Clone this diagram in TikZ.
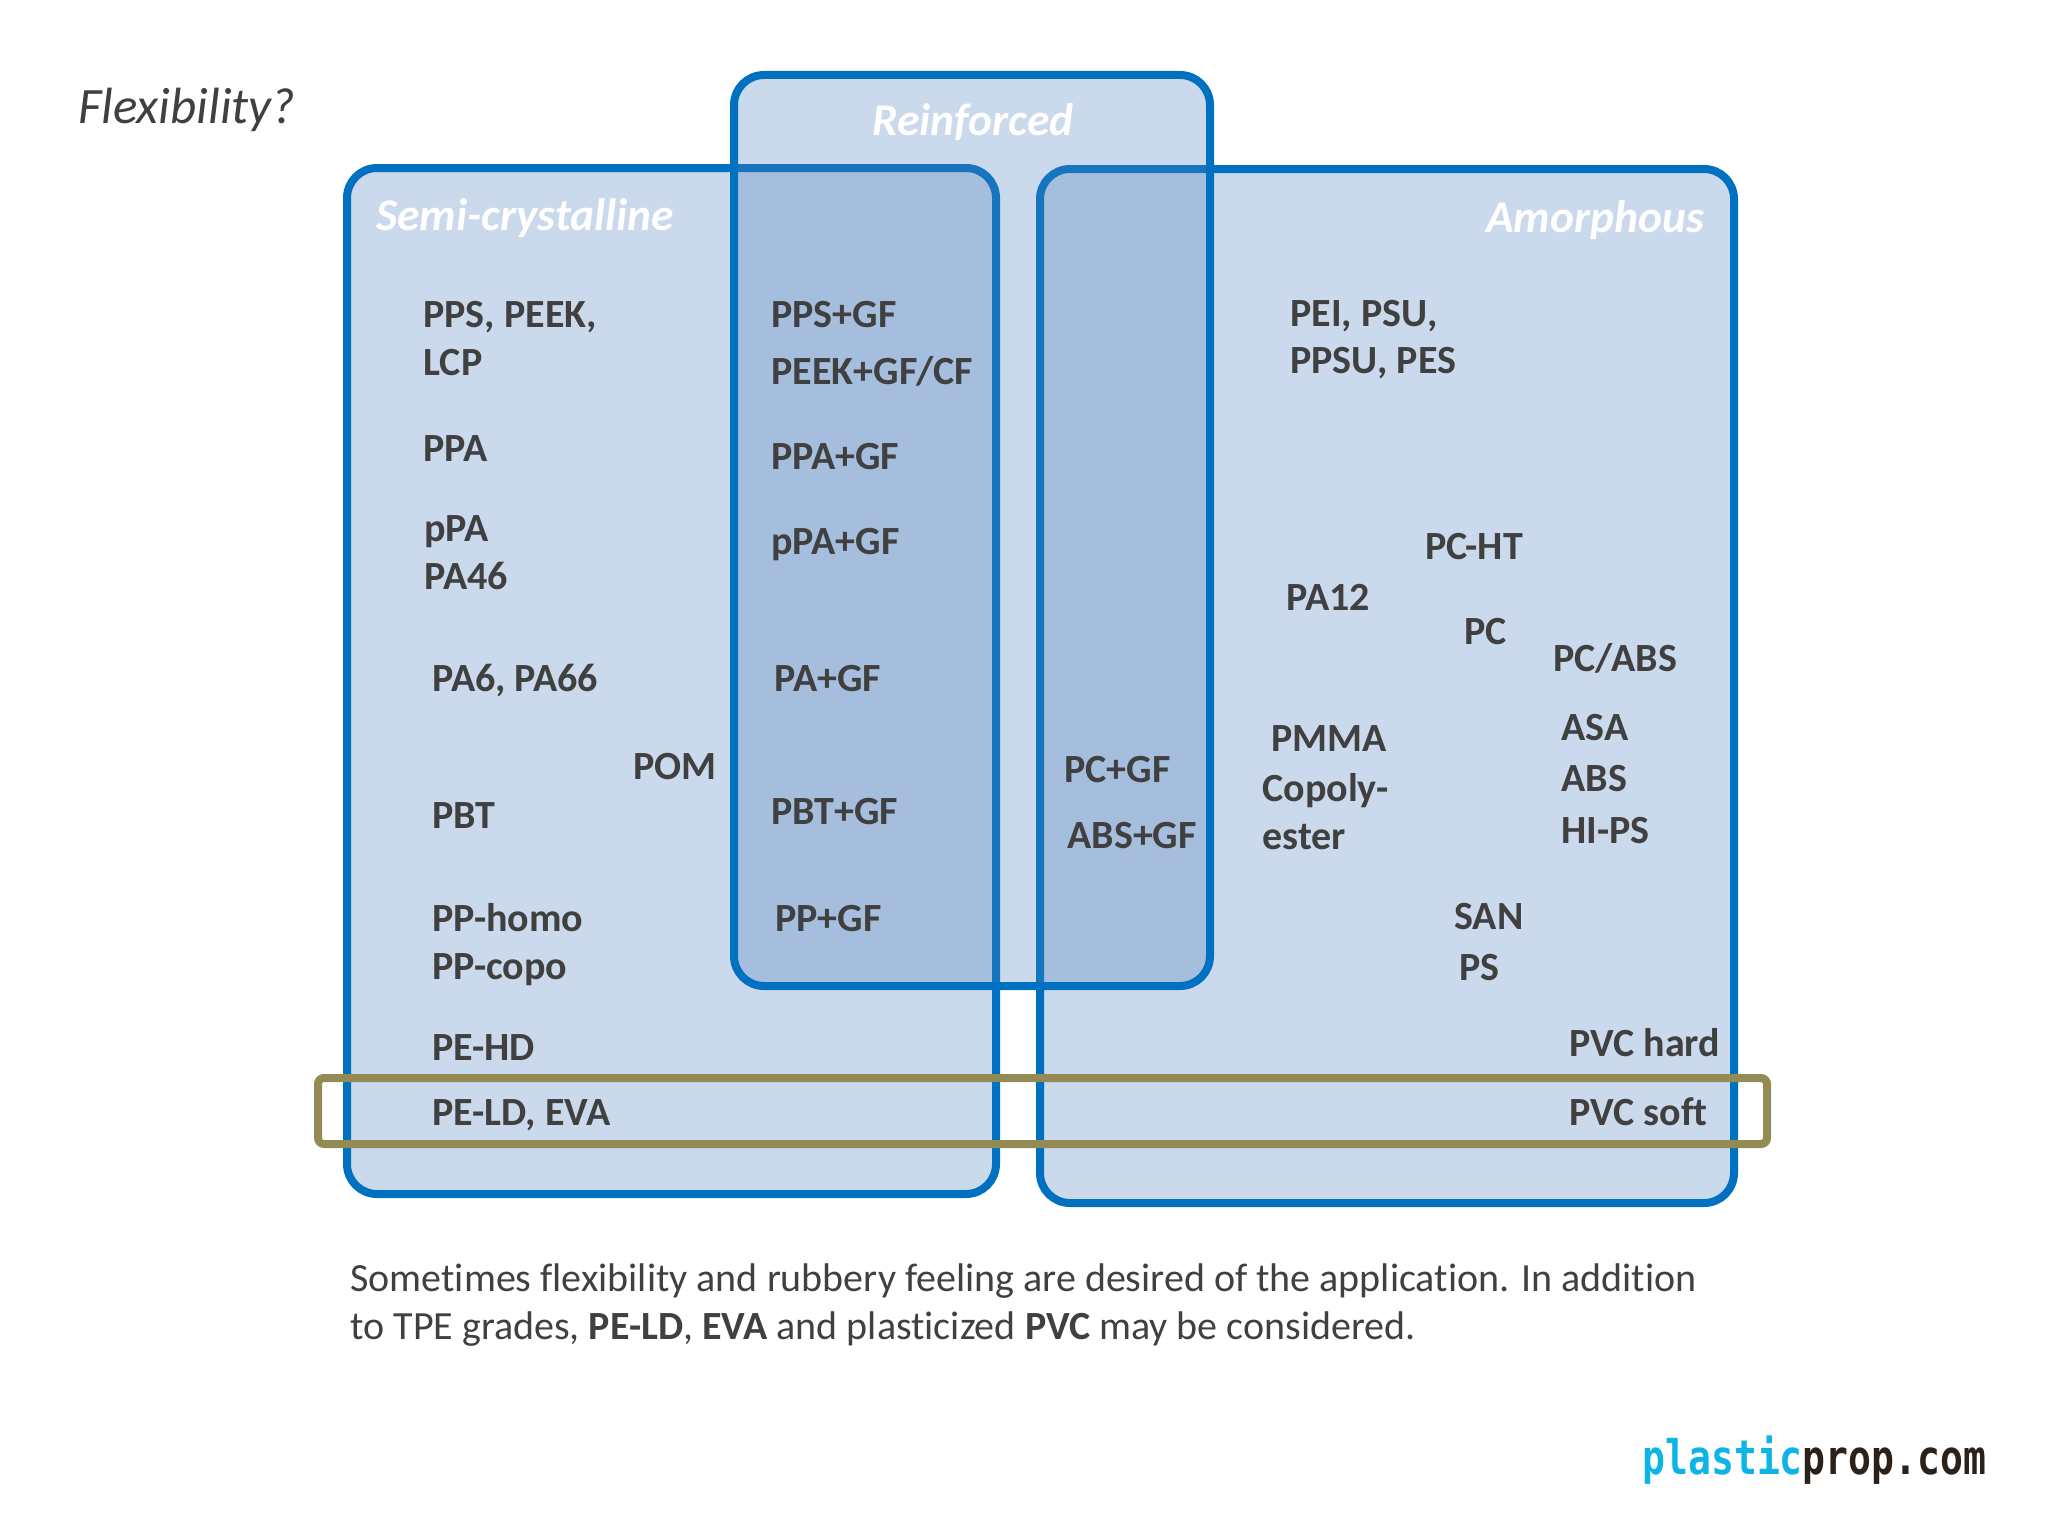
\documentclass[tikz,border=0pt]{standalone}
\usepackage{fontspec}
\setmainfont{Carlito}[Ligatures=NoCommon]
\newfontfamily\logofont{DejaVu Sans Mono}[FakeStretch=0.8]
\definecolor{venn}{HTML}{4F81BD}
\definecolor{vennline}{HTML}{0070C0}
\definecolor{flexline}{HTML}{948A54}
\definecolor{tagtext}{HTML}{404040}
\definecolor{logocyan}{HTML}{0DB5E6}
\definecolor{logodark}{HTML}{2B2118}

\begin{document}
\begin{tikzpicture}[
	x=0.5pt, y=-0.5pt,
	vennbox/.style={rectangle, rounded corners=15pt, draw=vennline, fill=venn, fill opacity=0.3, draw opacity=1, line width=4pt, inner sep=0pt},
	flexbox/.style={rectangle, rounded corners=3pt, draw=flexline, line width=4pt, inner sep=0pt},
	tag/.style={anchor=base west, inner sep=0pt, yshift=-0.5pt, text=tagtext, font=\fontsize{20}{20}\selectfont\bfseries},
	head/.style={anchor=base west, inner sep=0pt, text=white, font=\fontsize{22.7}{22.7}\selectfont\bfseries\itshape},
	body/.style={anchor=base west, inner sep=0pt, text=tagtext, font=\fontsize{20}{20}\selectfont},
	logo/.style={anchor=base west, inner sep=0pt, font=\logofont\fontsize{23.8}{23.8}\selectfont\bfseries},
	]
	\useasboundingbox (0,0) rectangle (2048,1536);
	%Boxes
	\node[vennbox, minimum width=324.5pt, minimum height=513pt] (semi) at (671.5,681) {};
	\node[vennbox, minimum width=347pt, minimum height=517pt]   (amor) at (1387,686) {};
	\node[vennbox, minimum width=238pt, minimum height=455.5pt] (rein) at (972,530.5) {};
	\node[flexbox, minimum width=724.5pt, minimum height=33pt]  (flex) at (1042.5,1111) {};

	%Headings
	\node[body, font=\fontsize{25.5}{25.5}\selectfont\itshape] (title) at (78,123) {Flexibility?};
	\node[head] (semilabel) at (376,230) {Semi-crystalline};
	\node[head] (reinlabel) at (872,135) {Reinforced};
	\node[head] (amorlabel) at (1486,232) {Amorphous};

	%Semi-crystalline
	\node[tag] (pps)    at (423,326)  {PPS, PEEK,};
	\node[tag] (lcp)    at (423,374)  {LCP};
	\node[tag] (ppa)    at (423,460)  {PPA};
	\node[tag] (ppasm)  at (424,540)  {pPA};
	\node[tag] (pa46)   at (424,588)  {PA46};
	\node[tag] (pa6)    at (432,690)  {PA6, PA66};
	\node[tag] (pom)    at (633,778)  {POM};
	\node[tag] (pbt)    at (432,827)  {PBT};
	\node[tag] (pphomo) at (432,930)  {PP-homo};
	\node[tag] (ppcopo) at (432,978)  {PP-copo};
	\node[tag] (pehd)   at (432,1059) {PE-HD};
	\node[tag] (peld)   at (432,1124) {PE-LD, EVA};

	%Reinforced
	\node[tag] (ppsgf)  at (771,326)  {PPS+GF};
	\node[tag] (peekgf) at (771,383)  {PEEK+GF/CF};
	\node[tag] (ppagf)  at (771,468)  {PPA+GF};
	\node[tag] (pagfsm) at (771,553)  {pPA+GF};
	\node[tag] (pagf)   at (774,690)  {PA+GF};
	\node[tag] (pbtgf)  at (771,823)  {PBT+GF};
	\node[tag] (ppgf)   at (775,930)  {PP+GF};
	\node[tag] (pcgf)   at (1064,781) {PC+GF};
	\node[tag] (absgf)  at (1067,847) {ABS+GF};

	%Amorphous
	\node[tag] (pei)    at (1290,325)  {PEI, PSU,};
	\node[tag] (ppsu)   at (1290,372)  {PPSU, PES};
	\node[tag] (pcht)   at (1425,558)  {PC-HT};
	\node[tag] (pa12)   at (1286,609)  {PA12};
	\node[tag] (pc)     at (1464,643)  {PC};
	\node[tag] (pcabs)  at (1553,670)  {PC/ABS};
	\node[tag] (asa)    at (1561,739)  {ASA};
	\node[tag] (abs)    at (1561,790)  {ABS};
	\node[tag] (hips)   at (1561,842)  {HI-PS};
	\node[tag] (pmma)   at (1271,750)  {PMMA};
	\node[tag] (copoly) at (1262,800)  {Copoly-};
	\node[tag] (ester)  at (1262,848)  {ester};
	\node[tag] (san)    at (1454,928)  {SAN};
	\node[tag] (ps)     at (1459,979)  {PS};
	\node[tag] (pvch)   at (1569,1055) {PVC hard};
	\node[tag] (pvcs)   at (1569,1124) {PVC soft};

	%Text below
	\node[body] (line1) at (350,1291) {Sometimes flexibility and rubbery feeling are desired of the application. In addition};
	\node[body] (line2) at (350,1339) {to TPE grades, \textbf{PE-LD}, \textbf{EVA} and plasticized \textbf{PVC} may be considered.};

	%Logo
	\node[logo] (logotext) at (1642,1474) {\textcolor{logocyan}{plastic}\textcolor{logodark}{prop.com}};
\end{tikzpicture}
\end{document}
